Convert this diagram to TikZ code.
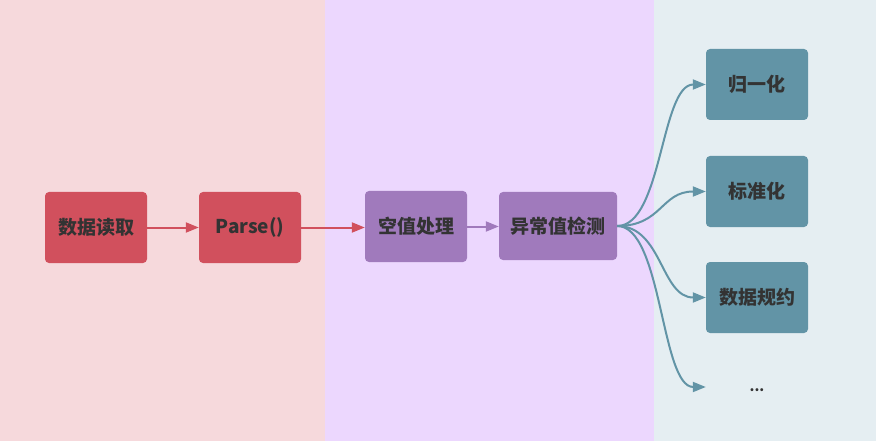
\documentclass[tikz,border=0pt]{standalone}
\usepackage{fontspec}
\setmainfont{Noto Sans CJK SC}[BoldFont={Noto Sans CJK SC Black}]
\usetikzlibrary{arrows.meta}
\definecolor{bgred}{HTML}{F6D9DC}
\definecolor{bgpur}{HTML}{ECD7FE}
\definecolor{bgblu}{HTML}{E5EEF2}
\definecolor{cred}{HTML}{D1505D}
\definecolor{cpur}{HTML}{A07ABC}
\definecolor{cblu}{HTML}{6294A6}
\definecolor{ctxt}{HTML}{333333}
\tikzset{
  box/.style={rounded corners=4pt, minimum width=102pt, minimum height=71pt, inner sep=0pt,
    text=ctxt, font=\bfseries\fontsize{19}{21}\selectfont},
  redbox/.style={box, fill=cred},
  purbox/.style={box, fill=cpur},
  blubox/.style={box, fill=cblu},
  conn/.style={line width=2pt, -{Triangle[length=13pt,width=10pt]}},
}
\begin{document}
\begin{tikzpicture}[x=1pt,y=-1pt]
\useasboundingbox (0,0) rectangle (876,441);
\fill[bgred] (0,0) rectangle (325,441);
\fill[bgpur] (325,0) rectangle (654,441);
\fill[bgblu] (654,0) rectangle (876,441);

\node[redbox] (read) at (96,227.5) {\raisebox{-1.5pt}{数据读取}};
\node[redbox] (parse) at (250,227.5) {\raisebox{-1.5pt}{Parse()}};
\node[purbox] (null) at (416,226.5) {\raisebox{-1.5pt}{空值处理}};
\node[purbox, minimum width=118pt, minimum height=68pt] (anom) at (558,226) {\raisebox{-1.5pt}{异常值检测}};
\node[blubox] (norm) at (757,84.5) {\raisebox{-1.5pt}{归一化}};
\node[blubox] (std) at (757,191.5) {\raisebox{-1.5pt}{标准化}};
\node[blubox] (red) at (757,297.5) {\raisebox{-1.5pt}{数据规约}};
\node[box, fill=none, font=\bfseries\fontsize{14}{16}\selectfont] (dots) at (757,387) {\raisebox{-10pt}{...}};

\draw[conn, cred] (read.east) -- (parse.west);
\draw[conn, cred] (parse.east) -- (null.west |- parse.east);
\draw[conn, cpur] (null.east) -- (anom.west |- null.east);
\draw[conn, cblu] (anom.east) .. controls +(45,0) and +(-45,0) .. (norm.west);
\draw[conn, cblu] (anom.east) .. controls +(45,0) and +(-45,0) .. (std.west);
\draw[conn, cblu] (anom.east) .. controls +(45,0) and +(-45,0) .. (red.west);
\draw[conn, cblu] (anom.east) .. controls +(45,0) and +(-45,0) .. (dots.west);
\end{tikzpicture}
\end{document}
